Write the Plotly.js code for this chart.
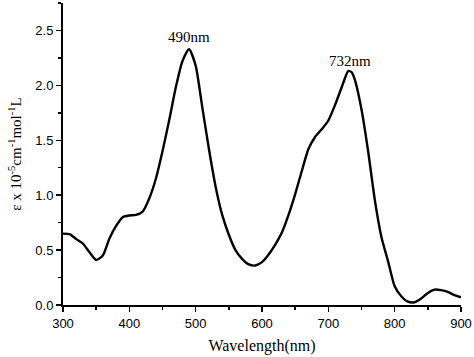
<!DOCTYPE html>
<html>
<head>
<meta charset="utf-8">
<script src="https://cdn.plot.ly/plotly-3.0.1.min.js"></script>
<style>html,body{margin:0;padding:0;background:#fff;}#chart{width:474px;height:357px;}</style>
</head>
<body>
<div id="chart"></div>
<script>
var wavelength = [300,310,320,330,340,350,360,370,380,390,400,410,420,430,440,450,460,470,480,490,500,510,520,530,540,550,560,570,580,590,600,610,620,630,640,650,660,670,680,690,700,710,720,730,735,740,750,760,770,780,790,800,810,820,830,840,850,860,870,880,890,900];
var epsilon = [0.65,0.645,0.60,0.56,0.48,0.41,0.45,0.605,0.72,0.80,0.815,0.82,0.85,0.97,1.15,1.40,1.68,1.98,2.22,2.33,2.18,1.80,1.42,1.08,0.82,0.64,0.50,0.42,0.37,0.36,0.39,0.46,0.55,0.66,0.82,1.01,1.22,1.42,1.53,1.60,1.68,1.82,1.98,2.13,2.12,2.05,1.78,1.40,0.96,0.62,0.40,0.17,0.08,0.03,0.025,0.06,0.11,0.14,0.135,0.12,0.09,0.07];
var peakLabels = ["490nm","732nm"];
var peakX = [490,732];
var peakY = [2.44,2.22];

var trace = {x: wavelength, y: epsilon, mode: 'lines', type: 'scatter',
  line: {color: '#000', width: 2.4, shape: 'spline', smoothing: 0.6}, hoverinfo: 'none'};

var annotations = peakLabels.map(function(t,i){
  return {x: peakX[i], y: peakY[i], xref: 'x', yref: 'y', text: t, showarrow: false,
    font: {family: 'Liberation Serif, Times New Roman, serif', size: 15, color: '#000'}};
});

var layout = {
  width: 474, height: 357,
  margin: {l: 63, r: 13, t: 3, b: 52},
  paper_bgcolor: '#fff', plot_bgcolor: '#fff',
  showlegend: false,
  xaxis: {range: [300, 900], tickvals: [300,400,500,600,700,800,900],
    ticks: 'outside', ticklen: 5, tickwidth: 1.5, tickcolor: '#000',
    showline: true, linecolor: '#000', linewidth: 2, showgrid: false, zeroline: false,
    tickfont: {family: 'Liberation Sans, Arial, sans-serif', size: 13, color: '#000'},
    minor: {dtick: 50, ticks: 'outside', ticklen: 3, tickwidth: 1.5, tickcolor: '#000', showgrid: false},
    title: {text: 'Wavelength(nm)', font: {family: 'Liberation Serif, Times New Roman, serif', size: 16, color: '#000'}, standoff: 10}},
  yaxis: {range: [0, 2.75], tickvals: [0,0.5,1,1.5,2,2.5], ticktext: ['0.0','0.5','1.0','1.5','2.0','2.5'],
    ticks: 'outside', ticklen: 5, tickwidth: 1.5, tickcolor: '#000',
    showline: true, linecolor: '#000', linewidth: 2, showgrid: false, zeroline: false,
    tickfont: {family: 'Liberation Sans, Arial, sans-serif', size: 13, color: '#000'},
    minor: {dtick: 0.25, ticks: 'outside', ticklen: 3, tickwidth: 1.5, tickcolor: '#000', showgrid: false},
    title: {text: 'ε x 10<sup>-5</sup>cm<sup>-1</sup>mol<sup>-1</sup>L', font: {family: 'Liberation Serif, Times New Roman, serif', size: 15, color: '#000'}, standoff: 10}},
  annotations: annotations
};
Plotly.newPlot('chart', [trace], layout, {staticPlot: true, displayModeBar: false});
</script>
</body>
</html>
